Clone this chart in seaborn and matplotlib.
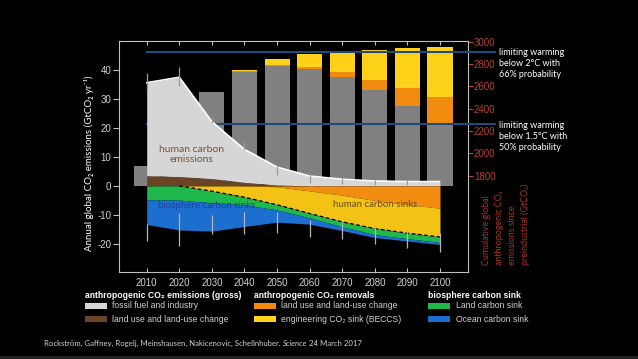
import numpy as np
import pandas as pd
import matplotlib
matplotlib.use("Agg")
import matplotlib.pyplot as plt
import seaborn as sns
from matplotlib.patches import Rectangle

# ---------------- data ----------------
years = [2010, 2020, 2030, 2040, 2050, 2060, 2070, 2080, 2090, 2100]

# annual gross emissions (GtCO2/yr, left axis)
fossil_industry = [32.1, 34.3, 19.7, 11.4, 6.2, 3.4, 2.3, 1.7, 1.5, 1.5]
land_use_emis = [3.5, 3.2, 2.5, 1.2, 0.3, 0.0, 0.0, 0.0, 0.0, 0.0]

# annual removals / sinks (magnitudes, GtCO2/yr, drawn below zero)
land_use_removal = [0.0, 0.0, 0.0, 0.0, 0.3, 1.7, 3.2, 5.0, 6.4, 7.7]
beccs = [0.0, 0.0, 1.8, 3.9, 6.2, 7.8, 9.2, 9.7, 9.9, 9.9]
land_sink = [4.8, 4.9, 4.0, 2.6, 1.8, 1.5, 1.7, 2.1, 1.9, 1.9]
ocean_sink = [8.5, 10.3, 9.8, 7.5, 4.2, 2.2, 1.3, 1.0, 0.8, 0.7]

# uncertainty ranges (GtCO2/yr)
emis_range_lo = [33.0, 34.5, 21.6, 12.4, 3.8, 0.9, 0.6, 0.3, 0.3, 0.3]
emis_range_hi = [38.9, 41.1, 23.9, 15.3, 6.9, 4.4, 2.9, 2.1, 2.1, 2.0]
sink_range_hi = [-13.0, -9.2, -10.0, -9.0, -9.0, -11.7, -12.3, -13.4, -15.2, -16.3]
sink_range_lo = [-19.0, -20.7, -16.5, -16.7, -16.3, -17.5, -18.4, -20.0, -21.3, -22.9]

# cumulative emissions since preindustrial (GtCO2, right axis)
bar_base = 1710
cum_net = [1890, 2250, 2553, 2727, 2786, 2756, 2682, 2566, 2425, 2271]
cum_landuse_removal = [0, 0, 0, 7, 9, 18, 45, 92, 159, 232]
cum_beccs = [0, 0, 0, 13, 50, 116, 181, 268, 357, 452]

limit_2c = 2905
limit_15c = 2262

left_ticks = [-20, -10, 0, 10, 20, 30, 40]
right_ticks = [1800, 2000, 2200, 2400, 2600, 2800, 3000]

# ---------------- style ----------------
C_FOSSIL = "#d6d6d6"
C_BROWN = "#6b4428"
C_ORANGE = "#f28c0f"
C_YELLOW_AREA = "#f2c314"
C_YELLOW_BAR = "#ffd21a"
C_GREEN = "#1fb84b"
C_BLUE = "#1c6fcf"
C_BAR = "#808080"
C_LIMIT = "#1f4a7a"
C_RED = "#b8402f"
C_RED_LABEL = "#a3362b"
C_AXIS = "#c0c0c0"
C_TXT = "#d0d0d0"

plt.rcParams["axes.unicode_minus"] = False
SANS = ["Liberation Sans", "DejaVu Sans"]
HUM = ["Lato", "DejaVu Sans"]
plt.rcParams["font.family"] = SANS

W_PX, H_PX = 638, 359
def fx(px):
    return px / W_PX
def fy(py):
    return 1 - py / H_PX

fig = plt.figure(figsize=(W_PX / 100, H_PX / 100), dpi=100, facecolor="black")
L, R, T, B = 119, 467.7, 41, 272
ax = fig.add_axes([fx(L), fy(B), fx(R) - fx(L), fy(T) - fy(B)])
ax2 = ax.twinx()
ax.set_zorder(ax2.get_zorder() + 1)
ax.patch.set_visible(False)
ax2.patch.set_visible(False)

yrs = np.array(years, float)

# ---------------- cumulative bars (right axis) ----------------
net = np.array(cum_net, float)
lur = np.array(cum_landuse_removal, float)
bec = np.array(cum_beccs, float)
base = np.full(len(years), bar_base, float)

sns.barplot(x=years, y=net - base, bottom=base, native_scale=True, width=0.77,
            color=C_BAR, saturation=1, errorbar=None, linewidth=0, ax=ax2)
sns.barplot(x=years, y=lur, bottom=net, native_scale=True, width=0.77,
            color=C_ORANGE, saturation=1, errorbar=None, linewidth=0, ax=ax2)
sns.barplot(x=years, y=bec, bottom=net + lur, native_scale=True, width=0.77,
            color=C_YELLOW_BAR, saturation=1, errorbar=None, linewidth=0, ax=ax2)

for lim in (limit_2c, limit_15c):
    ax2.plot([years[0], 2117], [lim, lim], color=C_LIMIT, lw=1.5, clip_on=False, zorder=5)

# ---------------- annual flows (left axis) ----------------
fi = np.array(fossil_industry)
lue = np.array(land_use_emis)
top = fi + lue
ax.fill_between(yrs, 0, lue, color=C_BROWN, lw=0, zorder=3)
ax.fill_between(yrs, lue, top, color=C_FOSSIL, alpha=1.0, lw=0, zorder=2)
sns.lineplot(x=yrs, y=top, color="white", lw=1.2, ax=ax, zorder=4)

r1 = -np.array(land_use_removal)
r2 = r1 - np.array(beccs)
r3 = r2 - np.array(land_sink)
r4 = r3 - np.array(ocean_sink)
ax.fill_between(yrs, 0, r1, color=C_ORANGE, lw=0, zorder=3)
ax.fill_between(yrs, r1, r2, color=C_YELLOW_AREA, lw=0, zorder=3)
ax.fill_between(yrs, r2, r3, color=C_GREEN, lw=0, zorder=3)
ax.fill_between(yrs, r3, r4, color=C_BLUE, lw=0, zorder=3)
sns.lineplot(x=yrs[1:], y=r2[1:], color="black", lw=0.9, linestyle=(0, (3, 2)), ax=ax, zorder=5)

ax.vlines(yrs, emis_range_lo, emis_range_hi, color="#9a9a9a", lw=0.9, zorder=5)
ax.vlines(yrs, sink_range_lo, sink_range_hi, color="#b4b4b4", lw=0.9, zorder=5)

ax.text(2023.8, 11, "human carbon\nemissions", color="#7a5236", fontsize=7.5,
        family=HUM, ha="center", va="center", linespacing=1.15, zorder=7)
ax.text(2028.4, -6.8, "biosphere carbon sinks", color="#24409a", fontsize=7,
        family=HUM, ha="center", va="center", zorder=7)
ax.text(2080.2, -6.3, "human carbon sinks", color="#6e4c16", fontsize=7,
        family=HUM, ha="center", va="center", zorder=7)

# ---------------- axes ----------------
ax.set_xlim(2001.5, 2108.5)
ax.set_ylim(-29.7, 50)
ax2.set_ylim(bar_base + ax.get_ylim()[0] * 25.9, bar_base + ax.get_ylim()[1] * 25.9)
ax.set_xticks(years)
ax.set_xticklabels([str(y) for y in years])
ax.set_yticks(left_ticks)
ax2.set_yticks(right_ticks)
ax.set_xlabel("")
ax.set_ylabel("")
ax2.set_xlabel("")
ax2.set_ylabel("")

for s in ("left", "top", "bottom"):
    ax.spines[s].set_color(C_AXIS)
    ax.spines[s].set_linewidth(0.8)
ax.spines["right"].set_visible(False)
for s in ("left", "top", "bottom"):
    ax2.spines[s].set_visible(False)
ax2.spines["right"].set_color(C_AXIS)
ax2.spines["right"].set_linewidth(0.8)

ax.tick_params(axis="y", direction="out", length=4, width=0.8, color=C_AXIS,
               labelcolor=C_TXT, labelsize=7, pad=1.5)
ax.tick_params(axis="x", direction="in", top=True, bottom=True, length=3, width=0.8,
               color=C_AXIS, labelcolor=C_TXT, labelsize=7, pad=4)
ax2.tick_params(axis="y", direction="out", length=3.5, width=0.8, color=C_RED,
                labelcolor=C_RED, labelsize=7, pad=1)

fig.text(fx(89), fy(163.5), "Annual global CO₂ emissions (GtCO₂ yr⁻¹)", rotation=90,
         color="white", fontsize=7, family=HUM, ha="center", va="center")
fig.text(fx(506), fy(265), "Cumulative global\nanthropogenic CO₂\nemissions since\npreindustrial (GtCO₂)",
         rotation=90, color=C_RED_LABEL, fontsize=6.4, family=HUM, ha="center", va="bottom",
         multialignment="left", linespacing=1.55)

fig.text(fx(499), fy(63.5), "limiting warming\nbelow 2°C with\n66% probability", color="white",
         fontsize=6.5, family=HUM, ha="left", va="center", linespacing=1.25)
fig.text(fx(499), fy(136.5), "limiting warming\nbelow 1.5°C with\n50% probability", color="white",
         fontsize=6.5, family=HUM, ha="left", va="center", linespacing=1.25)

# ---------------- legend ----------------
legend_cols = [
    (85, "anthropogenic CO₂ emissions (gross)",
     [(C_FOSSIL, "fossil fuel and industry"), (C_BROWN, "land use and land-use change")]),
    (254, "anthropogenic CO₂ removals",
     [(C_ORANGE, "land use and land-use change"), (C_YELLOW_BAR, "engineering CO₂ sink (BECCS)")]),
    (428.3, "biosphere carbon sink",
     [(C_GREEN, "Land carbon sink"), (C_BLUE, "Ocean carbon sink")]),
]
entry_y = [305.7, 319.3]
for x0, header, entries in legend_cols:
    fig.text(fx(x0), fy(295), header, color="white", fontsize=6.2, fontweight="bold",
             family=SANS, ha="left", va="center")
    for (col, lab), ey in zip(entries, entry_y):
        fig.add_artist(Rectangle((fx(x0), fy(ey + 3)), 22 / W_PX, 6 / H_PX,
                                 transform=fig.transFigure, facecolor=col, edgecolor="none"))
        fig.text(fx(x0 + 27.3), fy(ey), lab, color=C_TXT, fontsize=6.2, family=SANS,
                 ha="left", va="center")

# ---------------- caption ----------------
fig.canvas.draw()
rend = fig.canvas.get_renderer()
cap_kw = dict(color=C_TXT, fontsize=5.6, family=HUM, va="center", ha="left")
t1 = fig.text(fx(44), fy(343), "Rockström, Gaffney, Rogelj, Meinshausen, Nakicenovic, Schellnhuber.", **cap_kw)
bb = t1.get_window_extent(renderer=rend)
t2 = fig.text((bb.x1 + 2.2) / fig.bbox.width, fy(343), "Science", style="italic", **cap_kw)
bb2 = t2.get_window_extent(renderer=rend)
fig.text((bb2.x1 + 2.2) / fig.bbox.width, fy(343), "24 March 2017", **cap_kw)

fig.add_artist(Rectangle((0, 0), 1, 3 / H_PX, transform=fig.transFigure,
                         facecolor="#222222", edgecolor="none"))

fig.savefig("out.png", dpi=100, facecolor="black")
